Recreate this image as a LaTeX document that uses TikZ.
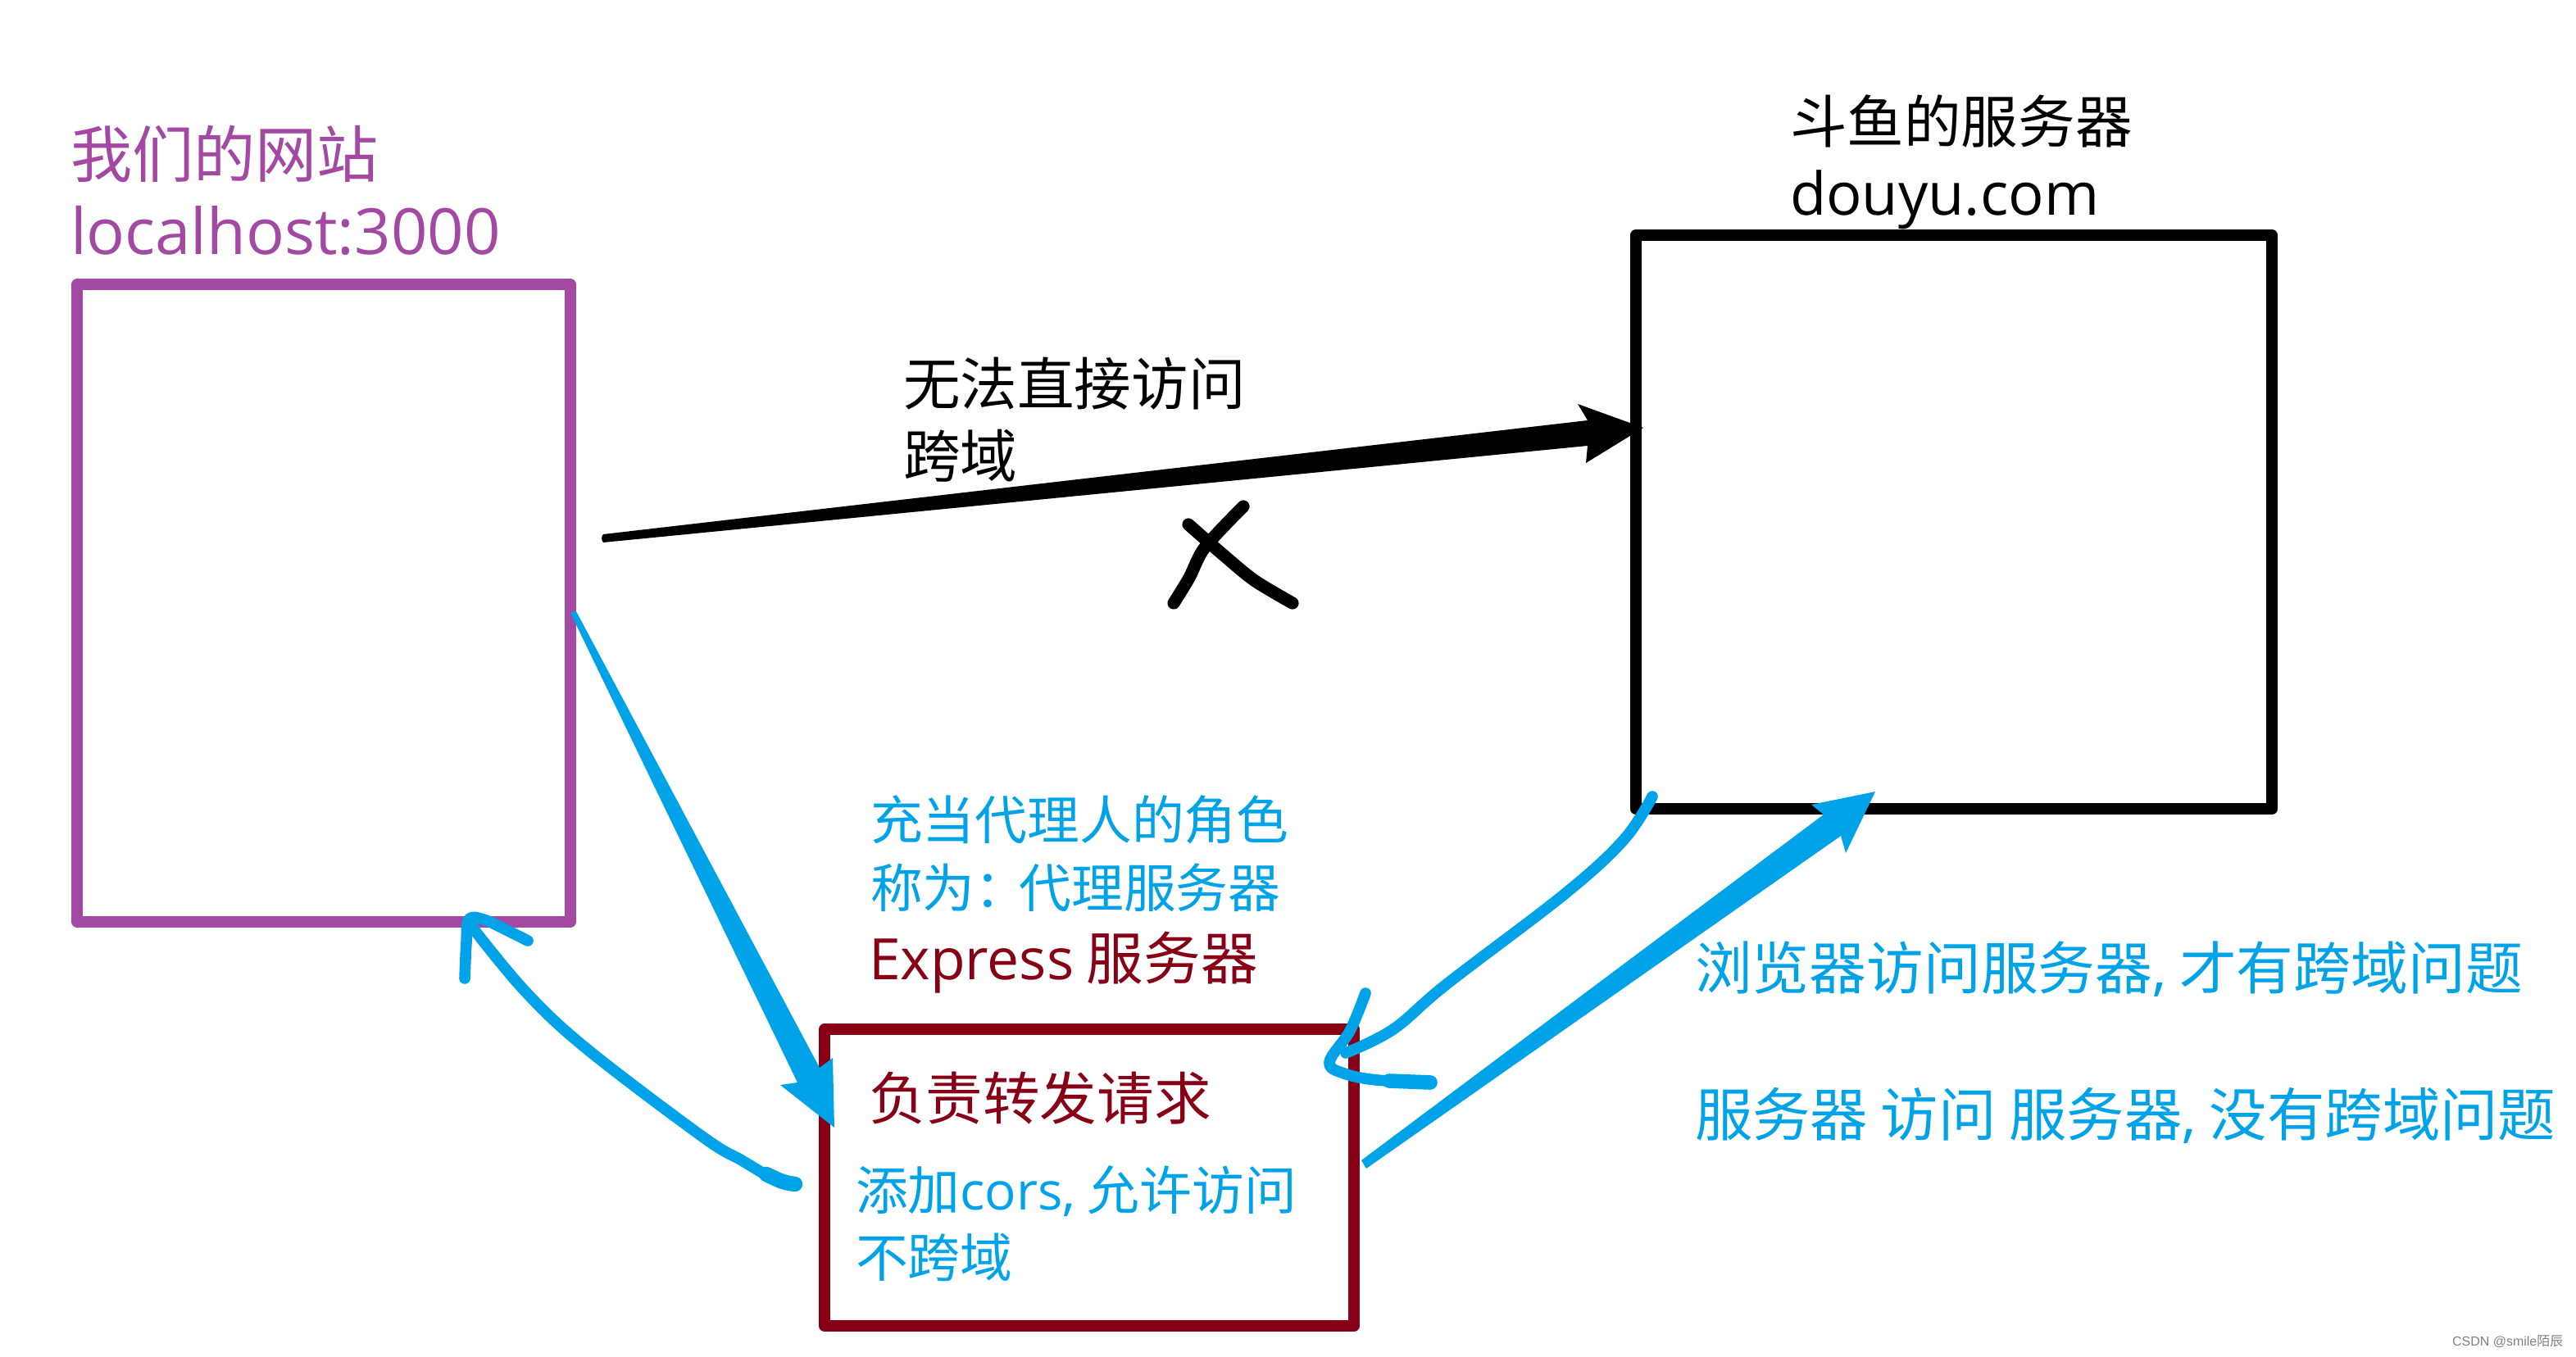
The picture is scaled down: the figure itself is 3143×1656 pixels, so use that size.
\documentclass[tikz,border=0pt]{standalone}
\usepackage{fontspec}
\setmainfont{Noto Sans CJK SC}
\newfontfamily\latinf{Open Sans}
\definecolor{cpurple}{HTML}{A349A4}
\definecolor{cred}{HTML}{880015}
\definecolor{cblue}{HTML}{00A2E8}
\tikzset{
  boxn/.style={draw,fill=none,line join=round,outer sep=0pt,inner sep=0pt},
  lbl/.style={anchor=base west,inner sep=0pt,outer sep=0pt},
  pen/.style={cblue,line cap=round,line join=round,line width=3.4pt},
  bigt/.style={font=\fontsize{18.8}{22}\selectfont},
  mid/.style={font=\fontsize{17.4}{21}\selectfont},
  small/.style={font=\fontsize{15.95}{19}\selectfont},
}
\begin{document}
\begin{tikzpicture}[x=0.25pt,y=-0.25pt]
\useasboundingbox (0,0) rectangle (3143,1656);
% boxes
\node[boxn,cpurple,line width=3.4pt,minimum width=150.5pt,minimum height=194.5pt] (site) at (395,736) {};
\node[boxn,black,line width=3.6pt,minimum width=194pt,minimum height=175pt] (douyu) at (2384,637) {};
\node[boxn,cred,line width=3.4pt,minimum width=161.5pt,minimum height=90.5pt] (proxy) at (1329,1437) {};
% texts
\node[lbl,bigt,cpurple] (t1) at (86,217) {我们的网站};
\node[lbl,cpurple,font=\fontsize{19.45}{22}\latinf] (t2) at (86,311) {localhost:3000};
\node[lbl,mid] (t3) at (2184,175) {斗鱼的服务器};
\node[lbl,font=\fontsize{18.05}{21}\latinf] (t4) at (2184,263) {douyu.com};
\node[lbl,mid] (t5) at (1102,495) {无法直接访问};
\node[lbl,mid] (t6) at (1102,583) {跨域};
\node[lbl,small,cblue] (t7) at (1062,1024) {充当代理人的角色};
\node[lbl,small,cblue] (t8) at (1062,1107) {称为：\hspace{-2.5pt}代理服务器};
\node[lbl,mid,cred] (t9) at (1060,1195) {{\latinf Express} 服务器};
\node[lbl,mid,cred] (t10) at (1060,1366) {负责转发请求};
\node[lbl,small,cblue] (t11) at (1044,1476) {添加{\latinf cors,} 允许访问};
\node[lbl,small,cblue] (t12) at (1044,1558) {不跨域};
\node[lbl,cblue,font=\fontsize{17.45}{21}\selectfont] (t13) at (2068,1207) {浏览器访问服务器{\latinf ,} 才有跨域问题};
\node[lbl,cblue,font=\fontsize{17.6}{21}\selectfont] (t14) at (2068,1386) {服务器 访问 服务器{\latinf ,} 没有跨域问题};
\node[lbl,gray,font=\fontsize{4}{5}\fontspec{Liberation Sans}] (wm) at (2992,1642) {CSDN @smile\fontspec{Noto Sans CJK SC}陌辰};
% black tapered arrow
\coordinate (ba) at (736,657);
\coordinate (bb) at (2005,522);
\fill[black,line join=round] (736,652) -- (1937,513) -- (1925,493) -- (bb) -- (1935,565) -- (1937,544) -- (736,662) to[bend left=40] (736,652) -- cycle;
% cross
\draw[black,line cap=round,line width=3.8pt] plot[smooth] coordinates {(1517,618) (1470,668) (1451,705) (1432,736)};
\draw[black,line cap=round,line width=3.8pt] plot[smooth] coordinates {(1450,640) (1490,675) (1530,708) (1577,736)};
% blue tapered arrow: site -> proxy
\coordinate (a1) at (700,748);
\coordinate (a1t) at (1018,1376);
\fill[cblue] (696,748) -- (703,746) -- (1000,1303) -- (1016,1291) -- (a1t) -- (952,1324) -- (973,1321) -- cycle;
% blue tapered arrow: proxy -> douyu
\coordinate (a2) at (1664,1420);
\coordinate (a2t) at (2288,966);
\fill[cblue] (1661,1416) -- (1667,1426) -- (2246,1020) -- (2252,1041) -- (a2t) -- (2210,982) -- (2225,994) -- cycle;
% freehand proxy -> site
\draw[pen] plot[smooth,tension=.6] coordinates {(970,1445) (945,1439) (905,1416) (857,1387) (716,1280) (641,1210) (575,1130)};
\draw[pen,line width=4.6pt] plot[smooth,tension=.6] coordinates {(970,1445) (955,1442) (935,1433)};
\draw[pen] plot[smooth,tension=.6] coordinates {(567,1194) (569,1150) (572,1122) (590,1122) (620,1136) (644,1148)};
% freehand douyu -> proxy
\draw[pen] plot[smooth,tension=.6] coordinates {(2016,972) (1981,1025) (1909,1091) (1765,1201) (1700,1256) (1642,1285)};
\draw[pen] plot[smooth,tension=.6] coordinates {(1666,1212) (1647,1258) (1622,1296) (1640,1310) (1680,1318) (1745,1321)};
\draw[pen,line width=4.4pt] plot[smooth,tension=.6] coordinates {(1695,1319) (1720,1320) (1745,1321)};
\end{tikzpicture}
\end{document}
